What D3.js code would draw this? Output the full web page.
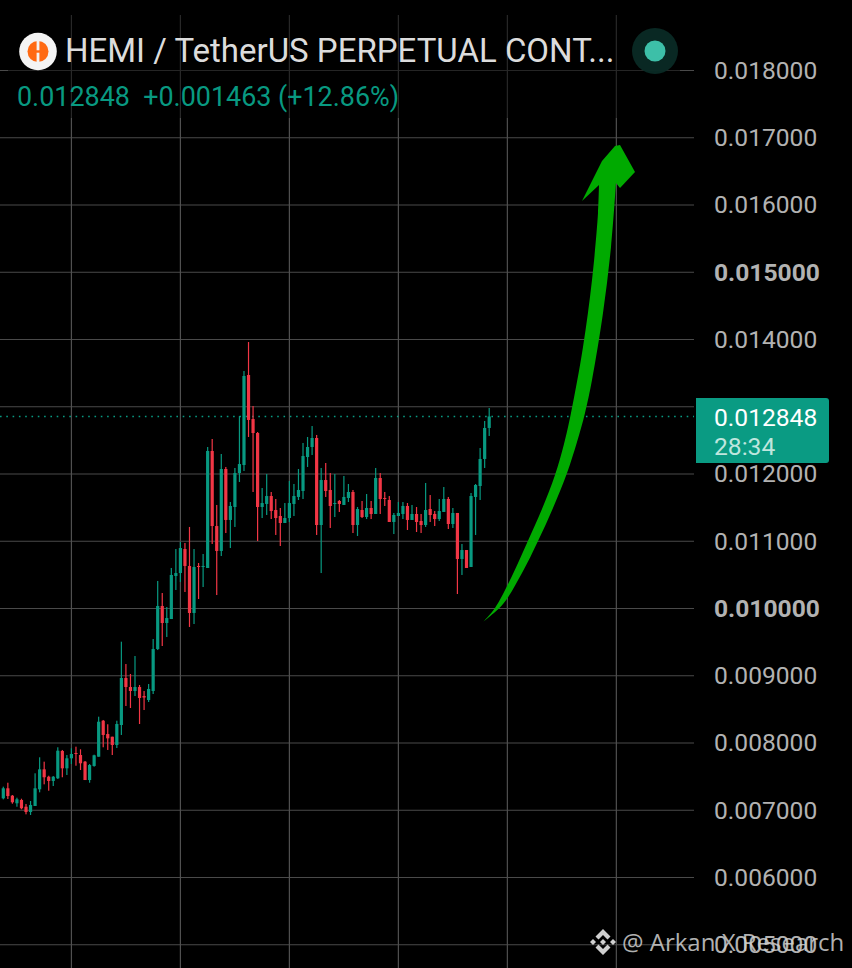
<!DOCTYPE html>
<html>
<head>
<meta charset="utf-8">
<script src="https://cdn.jsdelivr.net/npm/d3@7"></script>
<style>
  html, body { margin: 0; padding: 0; background: #000; }
  svg { display: block; font-family: Roboto, sans-serif; }
  .domain { display: none; }
</style>
</head>
<body>
<svg></svg>
<script>
// prices in millionths of USDT
const opens = [7170,7319,7209,7096,7145,7045,6967,7056,7304,7601,
  7491,7428,7468,7874,7616,7765,7844,7814,7715,7442,
  7651,7789,8324,8126,8086,7963,8260,8959,8825,8766,
  8825,8691,8632,8766,9390,10030,9777,9836,10476,10520,
  10877,10625,9926,10625,10610,10595,12335,11219,10848,12067,
  11309,11502,12007,12126,13465,12810,12602,11502,11547,11665,
  11457,11368,11264,11338,11547,11651,11740,12245,12394,12528,
  11234,11903,11755,11547,11591,11532,11636,11725,11234,11457,
  11353,11487,11398,11933,11636,11606,11279,11368,11398,11517,
  11309,11398,11294,11234,11472,11398,11323,11428,11621,11249,
  11413,10729,10862,10610,11651,11814,12216,12677];
const highs = [7343,7402,7219,7179,7164,7086,7130,7542,7780,7715,
  7506,7502,7929,7889,7814,7914,7938,7899,7725,7680,
  7819,8384,8335,8271,8086,8324,9499,9167,9019,9286,
  8855,8766,8870,9539,10402,10223,10015,10595,10877,10981,
  10967,11205,10877,10669,10803,12394,12513,11532,12290,12097,
  11576,12082,12855,13524,13955,13004,12617,11784,11993,11725,
  11621,11487,11561,11889,11844,12067,12454,12543,12706,12573,
  12082,12156,12007,11993,11606,11963,11844,11755,11502,11591,
  11695,11591,12082,12007,11725,11665,11413,11576,11576,11561,
  11532,11502,11398,11859,11680,11442,11621,11799,11651,11487,
  11413,10952,10862,11710,11844,12379,12781,12974];
const lows = [7155,7160,7090,7045,7007,6932,6922,7056,7259,7378,
  7283,7353,7457,7483,7517,7680,7655,7591,7442,7402,
  7640,7789,7929,7889,7814,7918,8112,8543,8513,8691,
  8275,8483,8602,8721,9375,9435,9569,9836,10268,10387,
  10238,9718,9762,10134,10312,10595,10952,10193,10773,11115,
  10892,11205,11874,12037,12543,11725,10996,11338,11383,11323,
  11086,10922,11264,11279,11368,11606,11621,12097,12275,11086,
  10520,11651,11190,11353,11428,11532,11576,11115,11071,11338,
  11323,11323,11398,11398,11517,11279,11100,11368,11323,11160,
  11309,11130,11115,11205,11279,11219,11294,11428,11175,11190,
  10208,10491,10595,10610,11086,11606,12082,12558];
const closes = [7319,7204,7111,7155,7022,6967,7071,7319,7601,7483,
  7428,7491,7878,7616,7765,7829,7829,7691,7442,7665,
  7810,8309,8112,8062,7963,8275,8959,8825,8766,8825,
  8662,8669,8796,9390,10030,9777,9851,10491,10520,10892,
  10625,9926,10610,10610,10625,12335,11219,10848,12067,11309,
  11517,12007,12141,13450,12796,12602,11502,11561,11665,11442,
  11338,11264,11338,11561,11665,11755,12260,12394,12528,11234,
  11903,11740,11517,11561,11547,11651,11725,11234,11472,11353,
  11487,11398,11933,11621,11621,11279,11383,11413,11517,11309,
  11398,11279,11234,11457,11383,11323,11442,11621,11249,11413,
  10729,10862,10595,11665,11829,12216,12677,12848];

const priceTicks = [5000,6000,7000,8000,9000,10000,11000,12000,13000,14000,15000,16000,17000,18000];
const hiddenTicks = [13000];   // covered by the last price tag
const boldTicks = [10000, 15000];
const timeTicks = [15,39,63,87,111,135];   // candle index of each vertical grid line
const lastPrice = 12848;

const title = "HEMI / TetherUS PERPETUAL CONT...";
const quote = "0.012848\u00a0\u00a0+0.001463 (+12.86%)";
const countdown = "28:34";
const watermark = "@ Arkan X Research";

const chartWidth = 852, chartHeight = 968, plotRight = 694, plotTop = 15;
const green = "#089981", red = "#f23645";

const svg = d3.select("svg").attr("width", chartWidth).attr("height", chartHeight);
svg.append("rect").attr("width", chartWidth).attr("height", chartHeight).attr("fill", "#000");

const x = d3.scaleLinear().domain([0, 107]).range([3.3, 489.2]);
const y = d3.scaleLinear().domain([10000, 18000]).range([608, 70]);
const fmt = d => (d / 1e6).toFixed(6);

// grid lines
const hGrid = svg.append("g").attr("transform", `translate(${plotRight},0)`)
  .call(d3.axisLeft(y).tickValues(priceTicks).tickSize(plotRight).tickFormat(""));
hGrid.selectAll("line").attr("stroke", "#4a4a4a").attr("stroke-width", 1.2);

const vGrid = svg.append("g").attr("transform", `translate(-0.5,${chartHeight})`)
  .call(d3.axisTop(x).tickValues(timeTicks).tickSize(chartHeight - plotTop).tickFormat(""));
vGrid.selectAll("line").attr("stroke", "#505050").attr("stroke-width", 1.2);

// header fades the grid behind it
svg.append("rect").attr("x", 8).attr("y", plotTop).attr("width", 672).attr("height", 103)
  .attr("fill", "#000").attr("opacity", 0.5);

// last price line
svg.append("line")
  .attr("x1", 0).attr("x2", plotRight)
  .attr("y1", y(lastPrice)).attr("y2", y(lastPrice))
  .attr("stroke", green).attr("stroke-width", 1.5).attr("stroke-dasharray", "1.6 4.7");

// candles
const candles = svg.append("g").selectAll("g")
  .data(d3.range(opens.length))
  .join("g")
  .attr("fill", i => closes[i] >= opens[i] ? green : red);

candles.append("rect")
  .attr("x", i => x(i) - 0.6)
  .attr("width", 1.2)
  .attr("y", i => y(highs[i]))
  .attr("height", i => y(lows[i]) - y(highs[i]));

candles.append("rect")
  .attr("x", i => x(i) - 1.6)
  .attr("width", 3.2)
  .attr("y", i => y(Math.max(opens[i], closes[i])))
  .attr("height", i => Math.max(1, Math.abs(y(opens[i]) - y(closes[i]))));

// hand drawn arrow
const leftEdge = [[483,622],[495,608],[512,576],[527,543],[542,509],[555,475],[564,444],[571,413],[583,347],[592,280],[598,213],[599,185]];
const rightEdge = [[616,183],[611,247],[603,313],[592,380],[585,413],[577,442],[567,473],[553,508],[538,541],[522,573],[503,604],[483,622]];
const head = [[582,201],[602,161],[615,146],[620,145],[635,172],[620,188]];
const curve = d3.line().curve(d3.curveCatmullRom);
svg.append("path")
  .attr("d", curve(leftEdge) + "L" + head.join("L") + "L" + curve(rightEdge).slice(1) + "Z")
  .attr("fill", "#00aa00");

// price axis
const axis = svg.append("g").attr("transform", "translate(714,0.6)")
  .call(d3.axisRight(y).tickValues(priceTicks.filter(d => !hiddenTicks.includes(d)))
    .tickSize(0).tickPadding(0).tickFormat(fmt));
axis.selectAll("text")
  .attr("font-family", "Roboto, sans-serif")
  .attr("font-size", 24.6)
  .attr("fill", "#b2b2b2")
  .attr("font-weight", d => boldTicks.includes(d) ? 700 : 400);

// last price tag
svg.append("path")
  .attr("d", "M696,398H826a3,3 0 0 1 3,3V460a3,3 0 0 1 -3,3H696Z")
  .attr("fill", "#0a9b83");
svg.append("text").attr("x", 714).attr("y", 426)
  .attr("font-size", 24.6).attr("fill", "#fff").text(fmt(lastPrice));
svg.append("text").attr("x", 714).attr("y", 455)
  .attr("font-size", 24.6).attr("fill", "#bfe6de").text(countdown);

// header
const logo = svg.append("g").attr("transform", "translate(38,51.5)");
logo.append("circle").attr("r", 18.8).attr("fill", "#f4f4f4");
logo.append("circle").attr("r", 10.5).attr("fill", "#ff6a13");
logo.append("rect").attr("x", -1.4).attr("y", -11).attr("width", 2.8).attr("height", 22).attr("fill", "#f4f4f4");
logo.append("rect").attr("x", -2).attr("y", -1.2).attr("width", 4).attr("height", 2.4).attr("fill", "#ff6a13");

svg.append("text").attr("x", 65).attr("y", 62)
  .attr("font-size", 33).attr("fill", "#dcdcdc").text(title);
svg.append("text").attr("x", 17).attr("y", 106)
  .attr("font-size", 26.9).attr("fill", green).text(quote);

svg.append("circle").attr("cx", 655).attr("cy", 51).attr("r", 23).attr("fill", "#0a2a25").attr("opacity", 0.95);
svg.append("circle").attr("cx", 655).attr("cy", 51).attr("r", 10.5).attr("fill", "#3dbfa8");

// watermark
const mark = svg.append("g").attr("transform", "translate(603,942)").attr("fill", "#cfcfcf");
mark.selectAll("path.chevron")
  .data([1, -1])
  .join("path")
  .attr("d", s => `M0,${-13 * s}L${7.5},${-5.5 * s}L4.5,${-2.5 * s}L0,${-7 * s}L-4.5,${-2.5 * s}L-7.5,${-5.5 * s}Z`);
mark.selectAll("path.dot")
  .data([-10, 0, 10])
  .join("path")
  .attr("d", c => `M${c},-3L${c + 3},0L${c},3L${c - 3},0Z`);
svg.append("text").attr("x", 622).attr("y", 951)
  .attr("font-family", "'Open Sans', sans-serif")
  .attr("font-size", 24).attr("fill", "#cfcfcf").attr("opacity", 0.85).text(watermark);
</script>
</body>
</html>
